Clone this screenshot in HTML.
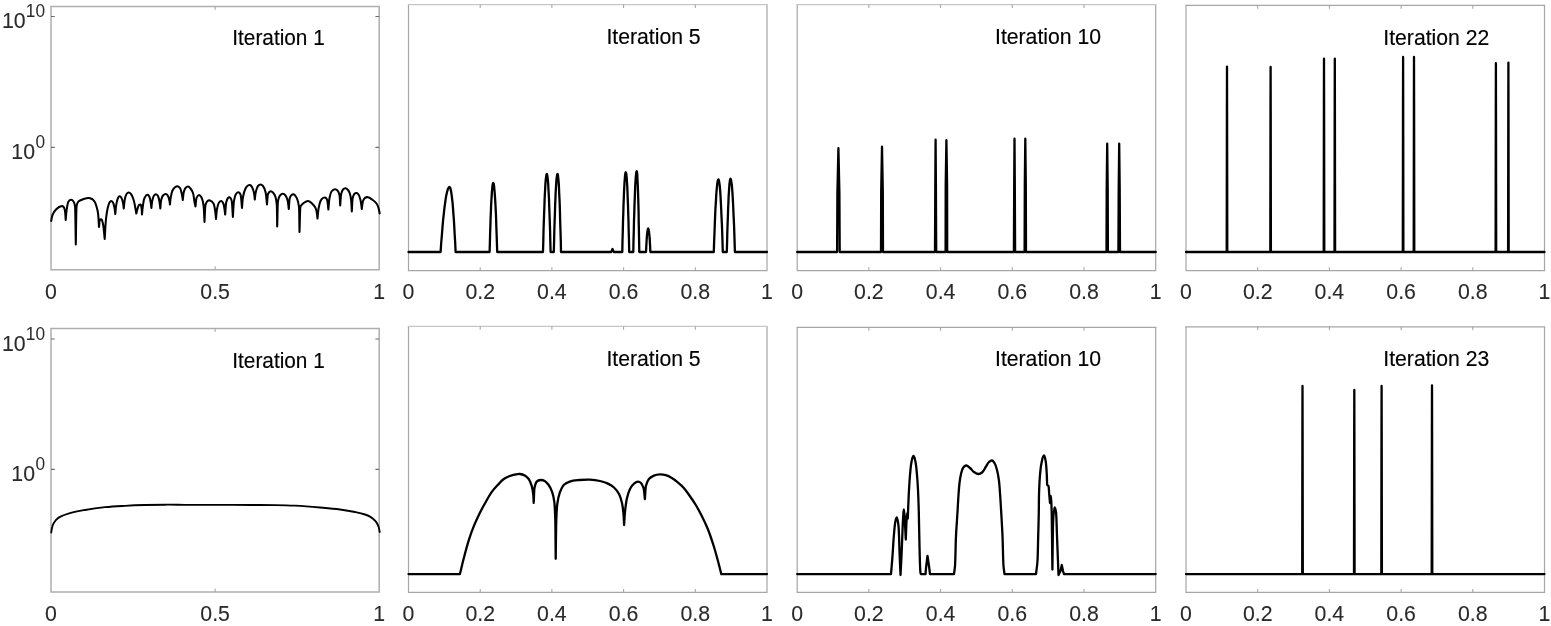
<!DOCTYPE html>
<html lang="en">
<head>
<meta charset="utf-8">
<title>Iterations</title>
<style>
html,body{margin:0;padding:0;background:#fff;}
body{width:1551px;height:626px;overflow:hidden;}
svg{display:block;filter:blur(0.45px);}
text{font-family:"Liberation Sans", sans-serif;}
.tk{font-size:21.3px;fill:#2a2a2a;stroke:#2a2a2a;stroke-width:0.1px;}
.sup{font-size:17.3px;fill:#2a2a2a;}
.tt{font-size:21.2px;fill:#000;stroke:#000;stroke-width:0.15px;}
.t0{font-size:20.8px;}
.bx{fill:none;stroke:#a6a6a6;stroke-width:1.2;}
.b0{stroke-width:1.5;stroke:#aeaeae;}
.lt{stroke:#c6c6c6;}
.tc.ty{stroke:#6e6e6e;stroke-width:1.2;}
.tc{stroke:#a0a0a0;stroke-width:1.0;fill:none;}
.cv{fill:none;stroke:#000;stroke-width:2.3;stroke-linejoin:round;stroke-linecap:round;}
.c0{stroke-width:2.05;}
.c1{stroke-width:1.85;}
</style>
</head>
<body>
<svg width="1551" height="626" viewBox="0 0 1551 626">
<rect x="0" y="0" width="1551" height="626" fill="#fff"/>
<g>
<path class="bx b0" d="M51.0 6.4V269.7H379.2V6.4"/>
<path class="bx b0" d="M50.3 6.4H379.9"/>
<text class="tk" transform="translate(51.0,298.6) scale(1,1.05)" text-anchor="middle">0</text>
<path class="tc" d="M215.1 269.7v-3.4M215.1 6.4v3.4"/>
<text class="tk" transform="translate(215.1,298.6) scale(1,1.05)" text-anchor="middle">0.5</text>
<text class="tk" transform="translate(379.2,298.6) scale(1,1.05)" text-anchor="middle">1</text>
<path class="tc ty" d="M51.0 16.5h3.8M379.2 16.5h-3.8"/>
<path class="tc ty" d="M51.0 147.3h3.8M379.2 147.3h-3.8"/>
<text class="tk" transform="translate(25.6,28.1) scale(1,1.05)" text-anchor="end">10</text><text class="sup" transform="translate(45.0,17.4) scale(1,1.05)" text-anchor="end">10</text>
<text class="tk" transform="translate(35.0,158.9) scale(1,1.05)" text-anchor="end">10</text><text class="sup" transform="translate(45.0,148.2) scale(1,1.05)" text-anchor="end">0</text>
<path class="cv c0" d="M51.20 221.00C51.67 218.84 51.85 216.58 52.50 215.00C53.39 212.83 54.35 211.17 56.00 209.50C57.51 207.96 58.88 206.57 61.00 206.20C61.91 206.04 62.81 206.18 63.50 206.80C64.25 207.47 64.66 209.43 65.00 211.00C65.35 212.64 65.45 216.76 65.70 220.00C65.99 216.76 66.10 213.68 66.50 211.00C67.02 207.54 67.50 202.94 68.50 201.50C69.16 200.56 70.05 199.76 71.20 199.80C72.23 199.84 72.90 200.67 73.50 201.50C74.25 202.53 74.71 204.32 75.00 206.00C75.40 208.31 75.51 230.64 75.80 244.50C76.09 230.64 76.20 208.21 76.60 206.00C76.87 204.50 77.30 202.96 78.00 202.00C78.53 201.27 79.20 200.91 80.00 200.50C82.69 199.12 84.98 198.09 88.00 198.00C89.48 197.96 90.71 198.27 92.00 199.00C93.11 199.63 93.80 200.44 94.50 201.50C95.50 203.02 95.92 204.65 96.50 206.50C97.22 208.79 97.64 210.63 98.00 213.00C98.50 216.33 98.64 221.96 99.00 227.00C99.29 224.48 99.40 220.48 99.80 220.00C100.21 219.51 100.93 219.20 101.50 219.50C102.25 219.89 102.63 222.33 103.00 224.00C103.85 227.85 104.09 233.60 104.70 239.00C105.17 231.80 105.35 225.06 106.00 219.00C106.39 215.38 106.75 212.30 107.50 209.00C108.04 206.61 108.50 204.05 109.50 202.50C109.94 201.81 110.38 201.01 111.20 201.00C112.04 200.99 112.54 201.79 113.00 202.50C113.75 203.67 114.09 205.99 114.50 208.00C114.90 209.98 115.01 211.84 115.30 214.00C115.62 210.76 115.75 207.54 116.20 205.00C116.65 202.44 117.10 199.70 118.00 198.00C118.38 197.28 118.75 196.35 119.50 196.30C120.44 196.23 120.98 197.21 121.50 198.00C122.25 199.15 122.59 201.17 123.00 203.00C123.40 204.81 123.51 206.52 123.80 208.50C124.12 205.44 124.25 202.24 124.70 200.00C125.14 197.79 125.60 195.20 126.50 194.00C127.09 193.21 127.81 192.49 128.80 192.50C129.76 192.51 130.38 193.27 131.00 194.00C132.25 195.49 132.80 197.44 133.50 199.50C134.25 201.71 134.52 203.65 135.00 206.00C135.54 208.69 135.83 210.80 136.30 213.50C136.73 211.88 136.99 210.60 137.50 209.00C137.97 207.54 138.25 205.72 139.00 205.00C139.41 204.61 139.99 204.25 140.50 204.50C141.00 204.75 141.28 206.38 141.50 207.50C141.75 208.76 141.82 211.98 142.00 214.50C142.36 211.08 142.50 208.14 143.00 205.00C143.41 202.45 143.75 199.43 144.50 198.00C145.23 196.60 146.00 194.79 147.50 194.80C148.50 194.81 149.01 196.05 149.50 197.00C150.15 198.26 150.43 200.82 150.80 203.00C151.10 204.79 151.18 206.20 151.40 208.00C151.69 205.48 151.80 202.83 152.20 201.00C152.64 198.96 153.10 196.67 154.00 195.50C154.52 194.82 155.14 194.13 156.00 194.20C156.97 194.28 157.50 195.17 158.00 196.00C158.85 197.42 159.25 200.45 159.70 203.00C160.00 204.71 160.08 206.52 160.30 208.50C160.62 205.44 160.75 201.82 161.20 200.00C161.62 198.31 162.10 196.48 163.00 195.50C163.82 194.61 164.81 193.81 166.00 194.00C167.00 194.16 167.48 195.13 168.00 196.00C168.75 197.26 169.10 199.16 169.50 201.00C169.75 202.14 169.82 203.24 170.00 204.50C170.29 201.80 170.40 199.19 170.80 197.00C171.24 194.62 171.65 192.25 172.50 190.50C173.15 189.16 173.81 188.10 175.00 187.20C175.77 186.61 176.54 186.08 177.50 186.20C178.60 186.33 179.36 187.10 180.00 188.00C180.90 189.26 181.29 191.80 181.80 194.00C182.30 196.13 182.44 197.84 182.80 200.00C183.16 197.12 183.30 193.86 183.80 192.00C184.21 190.49 184.65 188.98 185.50 188.00C186.19 187.21 186.95 186.43 188.00 186.50C189.15 186.58 189.76 187.62 190.50 188.50C191.70 189.92 192.39 191.25 193.00 193.00C193.75 195.15 193.87 198.78 194.50 202.00C194.82 203.63 195.14 204.88 195.50 206.50C195.86 203.44 196.00 199.16 196.50 198.00C197.06 196.71 197.75 195.06 199.00 195.00C200.25 194.94 200.86 196.40 201.50 197.50C202.50 199.23 203.06 202.24 203.50 205.00C204.00 208.10 204.14 215.88 204.50 222.00C204.86 215.88 205.00 206.87 205.50 205.00C205.92 203.44 206.50 201.76 207.50 201.00C208.23 200.44 209.11 200.27 210.00 200.50C211.61 200.92 212.64 202.08 213.50 203.50C214.35 204.91 214.76 208.27 215.20 211.00C215.60 213.46 215.71 216.12 216.00 219.00C216.36 215.40 216.50 211.48 217.00 209.00C217.48 206.60 218.00 203.83 219.00 202.50C219.59 201.71 220.33 200.82 221.30 201.00C222.40 201.20 222.98 202.76 223.50 204.00C224.35 206.03 224.59 210.72 225.20 214.50C225.56 210.18 225.70 204.62 226.20 202.50C226.60 200.80 227.10 198.95 228.00 198.00C228.41 197.57 228.92 197.15 229.50 197.30C230.50 197.55 231.07 198.87 231.50 200.00C232.20 201.86 232.40 210.88 232.90 217.00C233.30 211.24 233.45 204.14 234.00 201.00C234.45 198.42 235.00 195.42 236.00 194.00C236.64 193.09 237.40 192.07 238.50 192.20C239.50 192.32 240.06 193.50 240.50 194.50C241.25 196.21 241.46 203.14 242.00 208.00C242.36 204.04 242.50 199.62 243.00 197.00C243.60 193.87 244.25 190.84 245.50 188.50C246.16 187.26 246.81 186.25 248.00 185.50C248.63 185.11 249.28 184.80 250.00 185.00C250.98 185.27 251.46 186.13 252.00 187.00C253.00 188.62 253.50 190.78 254.00 193.00C254.40 194.77 254.51 197.16 254.80 199.50C255.16 196.80 255.30 194.03 255.80 192.00C256.35 189.77 256.90 187.33 258.00 186.00C258.67 185.19 259.45 184.50 260.50 184.50C261.55 184.50 262.31 185.21 263.00 186.00C264.25 187.45 264.90 189.74 265.50 192.00C266.25 194.85 266.46 200.00 267.00 204.50C267.36 200.72 267.50 195.14 268.00 194.00C268.54 192.76 269.25 191.43 270.50 191.20C271.50 191.02 272.27 191.79 273.00 192.50C274.25 193.72 274.89 195.25 275.50 197.00C276.15 198.87 276.54 202.09 276.80 205.00C277.00 207.22 277.06 218.76 277.20 226.50C277.49 217.32 277.60 203.08 278.00 201.00C278.40 198.93 279.00 196.68 280.00 195.50C280.80 194.55 281.76 193.75 283.00 193.80C284.09 193.84 284.80 194.66 285.50 195.50C286.50 196.70 287.01 198.30 287.50 200.00C288.15 202.25 288.33 205.76 288.80 209.00C289.16 205.04 289.30 199.60 289.80 198.00C290.17 196.82 290.65 195.74 291.50 195.00C292.08 194.49 292.74 194.06 293.50 194.20C294.45 194.37 294.91 195.23 295.50 196.00C296.48 197.28 296.97 198.48 297.50 200.00C298.25 202.14 298.70 204.44 299.00 207.00C299.25 209.15 299.32 223.00 299.50 232.00C299.86 222.82 300.00 207.84 300.50 206.50C300.90 205.42 301.66 204.79 302.50 204.00C303.30 203.24 304.03 202.73 305.00 202.20C306.02 201.64 306.84 201.00 308.00 201.00C308.78 201.00 309.33 201.41 310.00 201.80C310.60 202.15 311.00 202.52 311.50 203.00C312.88 204.32 314.02 205.36 315.00 207.00C315.75 208.25 316.13 209.51 316.50 211.00C317.00 212.99 317.14 215.80 317.50 218.50C317.86 215.08 318.00 211.83 318.50 209.00C319.02 206.08 319.50 202.97 320.50 201.00C321.14 199.75 321.81 198.75 323.00 198.00C323.63 197.61 324.28 197.30 325.00 197.50C325.98 197.77 326.55 198.59 327.00 199.50C327.70 200.90 327.90 205.90 328.40 209.50C328.80 205.36 328.95 200.76 329.50 198.00C329.98 195.60 330.50 192.83 331.50 191.50C332.41 190.29 333.49 189.28 335.00 189.20C336.01 189.15 336.81 189.76 337.50 190.50C338.50 191.56 339.07 193.28 339.50 195.00C339.85 196.42 339.95 201.72 340.20 205.50C340.56 201.36 340.70 196.10 341.20 194.00C341.60 192.30 342.10 190.49 343.00 189.50C343.68 188.75 344.49 188.13 345.50 188.20C346.61 188.28 347.28 189.16 348.00 190.00C349.00 191.17 349.50 192.47 350.00 194.00C350.60 195.83 350.91 198.46 351.20 201.00C351.50 203.63 351.58 207.72 351.80 211.50C352.12 206.64 352.25 199.87 352.70 198.00C353.08 196.40 353.60 194.68 354.50 193.80C355.05 193.26 355.73 192.90 356.50 193.00C357.39 193.12 357.96 193.78 358.50 194.50C359.50 195.85 359.99 197.96 360.50 200.00C361.15 202.59 361.33 205.76 361.80 209.00C362.23 206.12 362.40 202.62 363.00 201.00C363.47 199.73 364.00 198.49 365.00 197.80C365.91 197.17 366.91 197.02 368.00 197.20C369.64 197.47 370.65 198.53 372.00 199.50C373.76 200.77 375.22 201.75 376.50 203.50C377.50 204.87 377.95 206.32 378.50 208.00C379.10 209.83 379.27 211.52 379.70 213.50"/>
<text class="tt t0" transform="translate(232.3,45.3) scale(1,1.05)">Iteration 1</text>
</g>
<g>
<path class="bx" d="M408.5 4.6V270.7H767.0V4.6"/>
<path class="bx lt" d="M407.8 4.6H767.7"/>
<text class="tk" transform="translate(408.5,298.6) scale(1,1.05)" text-anchor="middle">0</text>
<path class="tc" d="M480.2 270.7v-3.4M480.2 4.6v3.4"/>
<text class="tk" transform="translate(480.2,298.6) scale(1,1.05)" text-anchor="middle">0.2</text>
<path class="tc" d="M551.9 270.7v-3.4M551.9 4.6v3.4"/>
<text class="tk" transform="translate(551.9,298.6) scale(1,1.05)" text-anchor="middle">0.4</text>
<path class="tc" d="M623.6 270.7v-3.4M623.6 4.6v3.4"/>
<text class="tk" transform="translate(623.6,298.6) scale(1,1.05)" text-anchor="middle">0.6</text>
<path class="tc" d="M695.3 270.7v-3.4M695.3 4.6v3.4"/>
<text class="tk" transform="translate(695.3,298.6) scale(1,1.05)" text-anchor="middle">0.8</text>
<text class="tk" transform="translate(767.0,298.6) scale(1,1.05)" text-anchor="middle">1</text>
<path class="cv" d="M408.5 252.0 L440.6 252.0 L441.2 243.0 L441.9 234.8 L442.5 227.1 L443.1 220.2 L443.8 213.9 L444.4 208.2 L445.1 203.2 L445.7 198.9 L446.3 195.3 L447.0 192.3 L447.6 190.0 L448.2 188.3 L448.9 187.3 L449.5 187.0 L449.9 187.3 L450.4 188.3 L450.8 190.0 L451.2 192.3 L451.7 195.3 L452.1 198.9 L452.6 203.2 L453.0 208.2 L453.4 213.9 L453.9 220.2 L454.3 227.1 L454.7 234.8 L455.2 243.0 L455.6 252.0 L489.6 252.0 L489.9 242.5 L490.1 233.7 L490.4 225.6 L490.6 218.2 L490.9 211.5 L491.1 205.5 L491.4 200.2 L491.7 195.7 L491.9 191.8 L492.2 188.6 L492.4 186.2 L492.7 184.4 L492.9 183.4 L493.2 183.0 L493.5 183.4 L493.8 184.4 L494.1 186.2 L494.3 188.6 L494.6 191.8 L494.9 195.7 L495.2 200.2 L495.5 205.5 L495.8 211.5 L496.1 218.2 L496.3 225.6 L496.6 233.7 L496.9 242.5 L497.2 252.0 L543.0 252.0 L543.3 241.3 L543.5 231.3 L543.8 222.2 L544.1 213.8 L544.4 206.2 L544.6 199.5 L544.9 193.5 L545.2 188.3 L545.4 183.9 L545.7 180.4 L546.0 177.6 L546.3 175.6 L546.5 174.4 L546.8 174.0 L547.1 174.4 L547.3 175.6 L547.6 177.6 L547.9 180.4 L548.2 183.9 L548.4 188.3 L548.7 193.5 L549.0 199.5 L549.2 206.2 L549.5 213.8 L549.8 222.2 L550.1 231.3 L550.3 241.3 L550.6 252.0 L553.8 252.0 L553.8 252.0 L554.1 241.3 L554.3 231.3 L554.6 222.2 L554.9 213.8 L555.1 206.2 L555.4 199.5 L555.6 193.5 L555.9 188.3 L556.2 183.9 L556.4 180.4 L556.7 177.6 L557.0 175.6 L557.2 174.4 L557.5 174.0 L557.8 174.4 L558.0 175.6 L558.2 177.6 L558.5 180.4 L558.8 183.9 L559.0 188.3 L559.2 193.5 L559.5 199.5 L559.8 206.2 L560.0 213.8 L560.2 222.2 L560.5 231.3 L560.8 241.3 L561.0 252.0 L611.2 252.0 L612.5 249.0 L613.8 252.0 L622.3 252.0 L622.5 241.0 L622.8 230.9 L623.0 221.5 L623.3 213.0 L623.5 205.2 L623.8 198.3 L624.0 192.2 L624.3 186.9 L624.5 182.5 L624.8 178.8 L625.0 176.0 L625.3 173.9 L625.5 172.7 L625.8 172.3 L626.0 172.7 L626.3 173.9 L626.5 176.0 L626.8 178.8 L627.0 182.5 L627.3 186.9 L627.5 192.2 L627.7 198.3 L628.0 205.2 L628.2 213.0 L628.5 221.5 L628.7 230.9 L629.0 241.0 L629.2 252.0 L633.3 252.0 L633.3 252.0 L633.5 240.9 L633.8 230.6 L634.0 221.1 L634.3 212.4 L634.5 204.6 L634.8 197.6 L635.0 191.4 L635.2 186.0 L635.5 181.5 L635.7 177.8 L636.0 174.9 L636.2 172.8 L636.5 171.6 L636.7 171.2 L636.9 171.6 L637.1 172.8 L637.3 174.9 L637.4 177.8 L637.6 181.5 L637.8 186.0 L638.0 191.4 L638.2 197.6 L638.4 204.6 L638.6 212.4 L638.7 221.1 L638.9 230.6 L639.1 240.9 L639.3 252.0 L646.0 252.0 L646.2 248.8 L646.3 245.8 L646.5 243.0 L646.6 240.5 L646.8 238.2 L646.9 236.2 L647.1 234.4 L647.3 232.8 L647.4 231.5 L647.6 230.4 L647.7 229.6 L647.9 229.0 L648.0 228.6 L648.2 228.5 L648.4 228.6 L648.5 229.0 L648.7 229.6 L648.8 230.4 L649.0 231.5 L649.1 232.8 L649.3 234.4 L649.5 236.2 L649.6 238.2 L649.8 240.5 L649.9 243.0 L650.1 245.8 L650.2 248.8 L650.4 252.0 L713.8 252.0 L714.1 242.0 L714.5 232.7 L714.8 224.2 L715.1 216.4 L715.4 209.4 L715.8 203.1 L716.1 197.6 L716.4 192.7 L716.8 188.7 L717.1 185.3 L717.4 182.7 L717.7 180.9 L718.1 179.8 L718.4 179.4 L718.7 179.8 L719.0 180.9 L719.3 182.7 L719.7 185.3 L720.0 188.7 L720.3 192.7 L720.6 197.6 L720.9 203.1 L721.2 209.4 L721.5 216.4 L721.9 224.2 L722.2 232.7 L722.5 242.0 L722.8 252.0 L726.8 252.0 L726.8 252.0 L727.1 241.9 L727.3 232.6 L727.6 224.0 L727.9 216.1 L728.1 209.0 L728.4 202.6 L728.6 197.0 L728.9 192.2 L729.2 188.0 L729.4 184.7 L729.7 182.1 L730.0 180.2 L730.2 179.1 L730.5 178.7 L730.8 179.1 L731.1 180.2 L731.4 182.1 L731.8 184.7 L732.1 188.0 L732.4 192.2 L732.7 197.0 L733.0 202.6 L733.3 209.0 L733.6 216.1 L734.0 224.0 L734.3 232.6 L734.6 241.9 L734.9 252.0 L767.0 252.0"/>
<text class="tt" transform="translate(606.4,44.3) scale(1,1.07)">Iteration 5</text>
</g>
<g>
<path class="bx" d="M797.2 4.6V270.6H1155.7V4.6"/>
<path class="bx lt" d="M796.5 4.6H1156.4"/>
<text class="tk" transform="translate(797.2,298.6) scale(1,1.05)" text-anchor="middle">0</text>
<path class="tc" d="M868.9 270.6v-3.4M868.9 4.6v3.4"/>
<text class="tk" transform="translate(868.9,298.6) scale(1,1.05)" text-anchor="middle">0.2</text>
<path class="tc" d="M940.6 270.6v-3.4M940.6 4.6v3.4"/>
<text class="tk" transform="translate(940.6,298.6) scale(1,1.05)" text-anchor="middle">0.4</text>
<path class="tc" d="M1012.3 270.6v-3.4M1012.3 4.6v3.4"/>
<text class="tk" transform="translate(1012.3,298.6) scale(1,1.05)" text-anchor="middle">0.6</text>
<path class="tc" d="M1084.0 270.6v-3.4M1084.0 4.6v3.4"/>
<text class="tk" transform="translate(1084.0,298.6) scale(1,1.05)" text-anchor="middle">0.8</text>
<text class="tk" transform="translate(1155.7,298.6) scale(1,1.05)" text-anchor="middle">1</text>
<path class="cv" d="M797.2 252.0 L837.1 252.0 L837.4 193.2 L838.4 148.2 L839.4 193.2 L839.7 252.0 L881.0 252.0 L881.2 191.7 L882.0 146.7 L882.8 191.7 L883.0 252.0 L935.0 252.0 L935.3 184.7 L935.6 139.7 L935.9 184.7 L936.2 252.0 L945.6 252.0 L945.7 185.2 L946.4 140.2 L947.1 185.2 L947.2 252.0 L1013.9 252.0 L1014.2 183.7 L1014.5 138.7 L1014.8 183.7 L1015.1 252.0 L1024.6 252.0 L1024.8 183.7 L1025.3 138.7 L1025.8 183.7 L1026.0 252.0 L1106.5 252.0 L1106.7 188.7 L1107.2 143.7 L1107.7 188.7 L1107.9 252.0 L1118.4 252.0 L1118.7 188.7 L1119.2 143.7 L1119.7 188.7 L1120.0 252.0 L1155.7 252.0"/>
<text class="tt" transform="translate(995.0,44.4) scale(1,1.07)">Iteration 10</text>
</g>
<g>
<path class="bx" d="M1186.0 5.4V270.6H1544.5V5.4"/>
<path class="bx" d="M1185.3 5.4H1545.2"/>
<text class="tk" transform="translate(1186.0,298.6) scale(1,1.05)" text-anchor="middle">0</text>
<path class="tc" d="M1257.7 270.6v-3.4M1257.7 5.4v3.4"/>
<text class="tk" transform="translate(1257.7,298.6) scale(1,1.05)" text-anchor="middle">0.2</text>
<path class="tc" d="M1329.4 270.6v-3.4M1329.4 5.4v3.4"/>
<text class="tk" transform="translate(1329.4,298.6) scale(1,1.05)" text-anchor="middle">0.4</text>
<path class="tc" d="M1401.1 270.6v-3.4M1401.1 5.4v3.4"/>
<text class="tk" transform="translate(1401.1,298.6) scale(1,1.05)" text-anchor="middle">0.6</text>
<path class="tc" d="M1472.8 270.6v-3.4M1472.8 5.4v3.4"/>
<text class="tk" transform="translate(1472.8,298.6) scale(1,1.05)" text-anchor="middle">0.8</text>
<text class="tk" transform="translate(1544.5,298.6) scale(1,1.05)" text-anchor="middle">1</text>
<path class="cv" d="M1186.0 252.0 L1226.7 252.0 L1226.9 111.6 L1227.0 66.6 L1227.1 111.6 L1227.3 252.0 L1270.3 252.0 L1270.5 111.9 L1270.6 66.9 L1270.7 111.9 L1270.9 252.0 L1323.7 252.0 L1323.9 103.6 L1324.0 58.6 L1324.1 103.6 L1324.3 252.0 L1334.5 252.0 L1334.7 103.6 L1334.8 58.6 L1334.9 103.6 L1335.1 252.0 L1402.8 252.0 L1403.0 102.0 L1403.1 57.0 L1403.2 102.0 L1403.4 252.0 L1413.7 252.0 L1413.9 102.0 L1414.0 57.0 L1414.1 102.0 L1414.3 252.0 L1495.6 252.0 L1495.8 108.2 L1495.9 63.2 L1496.0 108.2 L1496.2 252.0 L1508.1 252.0 L1508.3 107.6 L1508.4 62.6 L1508.5 107.6 L1508.7 252.0 L1544.5 252.0"/>
<text class="tt" transform="translate(1383.3,44.6) scale(1,1.07)">Iteration 22</text>
</g>
<g>
<path class="bx b0" d="M51.0 328.6V591.9H379.2V328.6"/>
<path class="bx b0" d="M50.3 328.6H379.9"/>
<text class="tk" transform="translate(51.0,620.6) scale(1,1.05)" text-anchor="middle">0</text>
<path class="tc" d="M215.1 591.9v-3.4M215.1 328.6v3.4"/>
<text class="tk" transform="translate(215.1,620.6) scale(1,1.05)" text-anchor="middle">0.5</text>
<text class="tk" transform="translate(379.2,620.6) scale(1,1.05)" text-anchor="middle">1</text>
<path class="tc ty" d="M51.0 339.0h3.8M379.2 339.0h-3.8"/>
<path class="tc ty" d="M51.0 469.3h3.8M379.2 469.3h-3.8"/>
<text class="tk" transform="translate(25.6,350.6) scale(1,1.05)" text-anchor="end">10</text><text class="sup" transform="translate(45.0,339.9) scale(1,1.05)" text-anchor="end">10</text>
<text class="tk" transform="translate(35.0,480.9) scale(1,1.05)" text-anchor="end">10</text><text class="sup" transform="translate(45.0,470.2) scale(1,1.05)" text-anchor="end">0</text>
<path class="cv c1" d="M51.20 532.50C51.49 530.88 51.61 529.60 52.00 528.00C52.34 526.61 52.61 525.51 53.20 524.20C53.72 523.05 54.24 522.20 55.00 521.20C55.73 520.25 56.39 519.58 57.30 518.80C58.20 518.03 58.95 517.45 60.00 516.90C63.40 515.11 66.31 514.27 70.00 513.20C75.30 511.66 79.56 510.96 85.00 510.00C92.16 508.74 97.77 507.96 105.00 507.20C112.18 506.45 117.79 506.20 125.00 505.80C132.19 505.40 137.80 505.20 145.00 505.00C152.20 504.80 157.80 504.74 165.00 504.70C172.20 504.66 177.80 504.77 185.00 504.80C195.80 504.84 204.20 504.87 215.00 504.90C227.60 504.94 237.40 504.96 250.00 505.00C259.00 505.03 266.00 504.95 275.00 505.10C282.20 505.22 287.81 505.33 295.00 505.70C304.01 506.16 311.01 506.73 320.00 507.50C327.21 508.12 332.83 508.54 340.00 509.50C345.43 510.22 349.64 510.89 355.00 512.00C358.63 512.76 361.48 513.33 365.00 514.50C366.85 515.12 368.29 515.66 370.00 516.60C371.15 517.24 371.99 517.85 373.00 518.70C373.98 519.52 374.69 520.22 375.50 521.20C376.32 522.20 376.90 523.05 377.50 524.20C378.10 525.36 378.43 526.34 378.80 527.60C379.25 529.14 379.38 530.42 379.70 532.00"/>
<text class="tt t0" transform="translate(232.3,367.5) scale(1,1.05)">Iteration 1</text>
</g>
<g>
<path class="bx" d="M408.5 326.3V592.4H767.0V326.3"/>
<path class="bx lt" d="M407.8 326.3H767.7"/>
<text class="tk" transform="translate(408.5,620.6) scale(1,1.05)" text-anchor="middle">0</text>
<path class="tc" d="M480.2 592.4v-3.4M480.2 326.3v3.4"/>
<text class="tk" transform="translate(480.2,620.6) scale(1,1.05)" text-anchor="middle">0.2</text>
<path class="tc" d="M551.9 592.4v-3.4M551.9 326.3v3.4"/>
<text class="tk" transform="translate(551.9,620.6) scale(1,1.05)" text-anchor="middle">0.4</text>
<path class="tc" d="M623.6 592.4v-3.4M623.6 326.3v3.4"/>
<text class="tk" transform="translate(623.6,620.6) scale(1,1.05)" text-anchor="middle">0.6</text>
<path class="tc" d="M695.3 592.4v-3.4M695.3 326.3v3.4"/>
<text class="tk" transform="translate(695.3,620.6) scale(1,1.05)" text-anchor="middle">0.8</text>
<text class="tk" transform="translate(767.0,620.6) scale(1,1.05)" text-anchor="middle">1</text>
<path class="cv" d="M408.50 574.10L459.90 574.10C461.34 568.23 462.37 563.65 463.90 557.80C465.60 551.29 466.86 546.21 468.90 539.80C470.51 534.73 471.90 530.83 473.90 525.90C475.83 521.14 477.51 517.50 479.80 512.90C481.81 508.86 483.56 505.81 485.80 501.90C487.89 498.26 489.35 495.31 491.80 491.90C493.74 489.21 495.53 487.33 497.80 484.90C499.87 482.69 501.34 480.76 503.80 479.00C505.77 477.60 507.54 476.86 509.80 476.00C511.89 475.21 513.60 474.80 515.80 474.40C517.22 474.14 518.36 473.85 519.80 474.00C521.68 474.20 523.15 474.67 524.80 475.60C526.42 476.51 527.60 477.50 528.70 479.00C530.20 481.05 530.92 483.31 531.70 485.90C532.50 488.55 532.93 491.63 533.30 494.90C533.50 496.66 533.56 500.02 533.70 502.90C533.99 497.50 534.10 489.93 534.50 487.90C534.96 485.54 535.60 482.75 536.70 481.60C537.77 480.48 539.15 480.11 540.70 480.00C542.18 479.90 543.41 480.27 544.70 481.00C546.47 482.00 547.51 483.34 548.70 485.00C550.31 487.25 551.18 489.29 552.10 491.90C553.20 495.04 553.80 498.25 554.30 501.90C554.80 505.55 555.09 513.41 555.30 519.90C555.50 525.98 555.56 544.80 555.70 558.80C555.92 544.80 556.00 527.60 556.30 519.90C556.52 514.13 556.80 507.48 557.30 503.90C557.86 499.89 558.50 496.27 559.70 492.90C560.77 489.90 561.70 487.10 563.70 485.00C565.41 483.20 567.36 482.42 569.70 481.60C573.11 480.40 576.01 480.36 579.60 480.00C583.33 479.63 586.26 479.41 590.00 479.60C593.63 479.78 596.46 480.18 600.00 481.00C602.95 481.68 605.27 482.30 608.00 483.60C610.32 484.71 612.11 485.75 614.00 487.50C616.17 489.50 617.61 491.39 619.00 494.00C620.50 496.82 621.23 499.67 622.00 503.00C622.75 506.22 623.12 510.02 623.50 514.00C623.80 517.15 623.88 521.04 624.10 525.00C624.42 520.32 624.55 516.25 625.00 512.00C625.54 506.94 626.00 502.24 627.00 498.00C627.78 494.68 628.50 491.88 630.00 489.00C631.12 486.85 632.15 485.16 634.00 483.60C635.23 482.56 636.39 481.62 638.00 481.60C639.19 481.58 640.15 482.17 641.00 483.00C642.25 484.22 642.91 486.07 643.50 488.00C644.20 490.30 644.40 495.04 644.90 499.00C645.26 494.32 645.40 488.04 645.90 486.00C646.55 483.34 647.40 480.82 648.90 479.00C650.28 477.32 651.89 476.45 653.90 475.60C655.90 474.76 657.63 474.47 659.80 474.40C661.98 474.33 663.71 474.59 665.80 475.20C668.09 475.87 669.75 476.79 671.80 478.00C674.10 479.36 675.74 480.69 677.80 482.40C680.08 484.28 681.83 485.80 683.80 488.00C686.21 490.68 687.72 493.06 689.80 496.00C692.05 499.18 693.79 501.67 695.80 505.00C698.13 508.86 699.77 511.97 701.80 516.00C704.12 520.61 705.87 524.22 707.80 529.00C710.22 535.01 711.75 539.82 713.70 546.00C715.28 551.00 716.33 554.94 717.70 560.00C719.07 565.06 720.00 569.02 721.30 574.10L767.00 574.10"/>
<text class="tt" transform="translate(606.4,366.1) scale(1,1.07)">Iteration 5</text>
</g>
<g>
<path class="bx" d="M797.2 327.4V592.4H1155.7V327.4"/>
<path class="bx" d="M796.5 327.4H1156.4"/>
<text class="tk" transform="translate(797.2,620.6) scale(1,1.05)" text-anchor="middle">0</text>
<path class="tc" d="M868.9 592.4v-3.4M868.9 327.4v3.4"/>
<text class="tk" transform="translate(868.9,620.6) scale(1,1.05)" text-anchor="middle">0.2</text>
<path class="tc" d="M940.6 592.4v-3.4M940.6 327.4v3.4"/>
<text class="tk" transform="translate(940.6,620.6) scale(1,1.05)" text-anchor="middle">0.4</text>
<path class="tc" d="M1012.3 592.4v-3.4M1012.3 327.4v3.4"/>
<text class="tk" transform="translate(1012.3,620.6) scale(1,1.05)" text-anchor="middle">0.6</text>
<path class="tc" d="M1084.0 592.4v-3.4M1084.0 327.4v3.4"/>
<text class="tk" transform="translate(1084.0,620.6) scale(1,1.05)" text-anchor="middle">0.8</text>
<text class="tk" transform="translate(1155.7,620.6) scale(1,1.05)" text-anchor="middle">1</text>
<path class="cv" d="M797.20 574.10L891.00 574.10C891.54 567.58 892.01 562.52 892.50 556.00C893.10 548.08 893.27 541.91 894.00 534.00C894.43 529.31 894.75 524.13 895.50 521.00C895.81 519.69 896.15 517.45 896.80 517.50C897.65 517.57 898.13 522.90 898.50 526.00C899.00 530.19 899.13 542.00 899.50 551.00C899.85 559.64 900.14 566.36 900.50 575.00C900.86 568.16 901.18 562.84 901.50 556.00C901.92 547.00 902.10 540.00 902.50 531.00C902.76 525.24 902.90 520.03 903.30 515.00C903.46 513.01 903.60 509.50 903.90 509.50C904.25 509.50 904.39 514.94 904.60 518.00C905.13 525.73 905.37 531.76 905.80 539.50C906.09 532.48 906.20 525.68 906.60 520.00C906.78 517.47 906.95 513.00 907.30 513.00C907.55 513.00 907.62 516.52 907.80 518.50C907.98 513.64 908.10 509.86 908.30 505.00C908.53 499.60 908.69 495.40 909.00 490.00C909.31 484.60 909.51 480.39 910.00 475.00C910.43 470.31 910.75 465.38 911.50 462.00C911.99 459.78 912.50 456.00 913.50 456.00C914.50 456.00 915.01 459.78 915.50 462.00C916.25 465.38 916.57 470.31 917.00 475.00C917.49 480.39 917.72 484.60 918.00 490.00C918.40 497.77 918.57 504.08 918.80 512.00C919.15 524.24 919.15 533.85 919.50 546.00C919.78 555.72 920.00 570.88 920.50 573.00C920.60 573.42 920.82 573.70 921.00 574.10L925.50 574.10L926.00 568.00L927.50 556.00L929.00 566.00L930.00 574.10L954.00 574.10C954.36 571.18 954.77 568.93 955.00 566.00C955.50 559.61 955.50 546.44 956.00 536.00C956.41 527.35 956.98 520.64 957.50 512.00C957.87 505.88 958.07 501.12 958.50 495.00C958.81 490.68 959.00 487.01 959.50 483.00C959.91 479.74 960.25 477.02 961.00 474.00C961.55 471.79 962.00 469.47 963.00 468.00C963.79 466.84 964.60 465.60 966.00 465.50C967.69 465.38 968.67 466.94 970.00 468.00C971.59 469.27 972.32 470.85 974.00 472.00C975.46 473.00 976.73 473.99 978.50 474.00C979.87 474.01 980.95 473.38 982.00 472.50C984.00 470.84 984.56 468.66 986.00 466.50C987.08 464.88 987.54 463.29 989.00 462.00C989.91 461.20 990.81 460.31 992.00 460.50C993.25 460.70 993.82 461.92 994.50 463.00C995.75 464.98 996.31 467.42 997.00 470.00C998.00 473.74 998.47 477.01 999.00 481.00C999.50 484.78 999.68 488.68 1000.00 493.00C1000.50 499.84 1000.80 505.16 1001.20 512.00C1001.71 520.64 1002.12 527.36 1002.50 536.00C1002.97 546.80 1003.00 559.61 1003.50 566.00C1003.73 568.93 1004.14 571.18 1004.50 574.10L1036.00 574.10C1036.54 569.38 1037.16 565.73 1037.50 561.00C1037.85 556.08 1037.96 545.00 1038.20 536.00C1038.43 527.36 1038.64 520.64 1038.80 512.00C1038.90 506.56 1038.90 498.24 1039.00 495.00C1039.22 487.79 1039.50 480.72 1040.00 475.00C1040.38 470.66 1040.75 466.31 1041.50 463.00C1042.13 460.22 1042.75 455.47 1044.00 455.50C1044.90 455.52 1045.38 459.61 1045.80 462.00C1046.30 464.85 1046.53 470.31 1046.80 475.00C1047.00 478.42 1047.00 484.61 1047.20 485.00C1047.47 485.52 1048.22 485.48 1048.50 486.00C1048.85 486.64 1048.95 491.12 1049.20 494.00C1049.49 497.24 1049.71 499.76 1050.00 503.00C1050.36 500.48 1050.50 495.98 1051.00 496.00C1051.30 496.01 1051.46 504.96 1051.60 510.00C1052.00 524.21 1052.11 548.08 1052.40 569.50C1052.69 551.68 1052.80 526.26 1053.20 520.00C1053.49 515.48 1053.90 507.57 1054.60 507.50C1055.30 507.43 1055.71 510.33 1056.00 512.00C1056.50 514.88 1056.65 527.36 1057.00 536.00C1057.56 550.04 1057.96 560.96 1058.50 575.00L1060.50 571.00L1061.80 565.00L1063.00 571.00L1064.00 574.10L1155.70 574.10"/>
<text class="tt" transform="translate(995.0,366.1) scale(1,1.07)">Iteration 10</text>
</g>
<g>
<path class="bx" d="M1186.0 326.8V592.4H1544.5V326.8"/>
<path class="bx" d="M1185.3 326.8H1545.2"/>
<text class="tk" transform="translate(1186.0,620.6) scale(1,1.05)" text-anchor="middle">0</text>
<path class="tc" d="M1257.7 592.4v-3.4M1257.7 326.8v3.4"/>
<text class="tk" transform="translate(1257.7,620.6) scale(1,1.05)" text-anchor="middle">0.2</text>
<path class="tc" d="M1329.4 592.4v-3.4M1329.4 326.8v3.4"/>
<text class="tk" transform="translate(1329.4,620.6) scale(1,1.05)" text-anchor="middle">0.4</text>
<path class="tc" d="M1401.1 592.4v-3.4M1401.1 326.8v3.4"/>
<text class="tk" transform="translate(1401.1,620.6) scale(1,1.05)" text-anchor="middle">0.6</text>
<path class="tc" d="M1472.8 592.4v-3.4M1472.8 326.8v3.4"/>
<text class="tk" transform="translate(1472.8,620.6) scale(1,1.05)" text-anchor="middle">0.8</text>
<text class="tk" transform="translate(1544.5,620.6) scale(1,1.05)" text-anchor="middle">1</text>
<path class="cv" d="M1186.0 574.1 L1302.2 574.1 L1302.4 430.9 L1302.5 385.9 L1302.6 430.9 L1302.8 574.1 L1354.0 574.1 L1354.2 435.0 L1354.3 390.0 L1354.4 435.0 L1354.6 574.1 L1381.3 574.1 L1381.5 430.9 L1381.6 385.9 L1381.7 430.9 L1381.9 574.1 L1431.7 574.1 L1431.9 430.3 L1432.0 385.3 L1432.1 430.3 L1432.3 574.1 L1544.5 574.1"/>
<text class="tt" transform="translate(1383.3,366.1) scale(1,1.07)">Iteration 23</text>
</g>
</svg>
</body>
</html>
